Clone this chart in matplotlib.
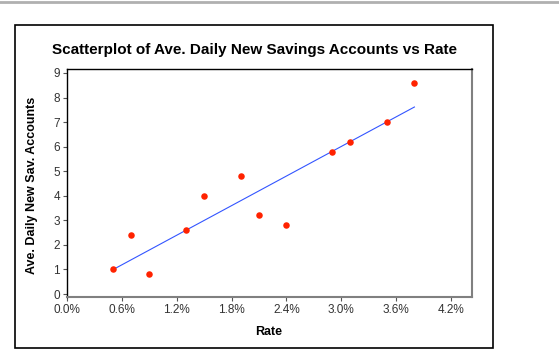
import numpy as np
import matplotlib
matplotlib.use("Agg")
import matplotlib.pyplot as plt
from matplotlib.patches import Rectangle
from matplotlib.lines import Line2D
from matplotlib.ticker import PercentFormatter

# ----
# Data
# ----

rate = [0.005, 0.007, 0.009, 0.013, 0.015, 0.019, 0.021, 0.024, 0.029, 0.031, 0.035, 0.038]
accounts = [1.0, 2.4, 0.8, 2.6, 4.0, 4.8, 3.2, 2.8, 5.8, 6.2, 7.0, 8.6]

x_ticks = [0.0, 0.006, 0.012, 0.018, 0.024, 0.030, 0.036, 0.042]
y_ticks = list(range(0, 10))

title = "Scatterplot of Ave. Daily New Savings Accounts vs Rate"
x_label = "Rate"
y_label = "Ave. Daily New Sav. Accounts"

plt.rcParams["font.family"] = ["Liberation Sans", "DejaVu Sans"]

W, H = 559, 357
fig = plt.figure(figsize=(W / 100, H / 100), dpi=100)

# light grey page edge at the top
fig.add_artist(Line2D([0, 1], [1 - 1.5 / H, 1 - 1.5 / H], color="#b0b0b0", lw=2))

# outer frame
fig.add_artist(Rectangle((15 / W, 1 - 348 / H), (493 - 15) / W, (348 - 25) / H,
                         fill=False, edgecolor="black", lw=1.2))

ax = fig.add_axes([67 / W, 1 - 297 / H, (472 - 67) / W, (297 - 69) / H])

ax.scatter(rate, accounts, s=22, color="#ff2200", zorder=3, linewidths=0)

# least squares fit line
slope, intercept = np.polyfit(rate, accounts, 1)
xs = np.array([min(rate), max(rate)])
ax.plot(xs, slope * xs + intercept, color="#3355ff", lw=0.8, zorder=2)

ax.set_xlim(0, 0.0443)
ax.set_ylim(-0.12, 9.16)
ax.set_xticks(x_ticks)
ax.set_yticks(y_ticks)
ax.xaxis.set_major_formatter(PercentFormatter(xmax=1, decimals=1))
ax.tick_params(direction="out", length=3, width=0.8, labelsize=8.5,
               labelcolor="#333333", color="#555555", pad=2)

for side in ("top", "left"):
    ax.spines[side].set_color("black")
    ax.spines[side].set_linewidth(1.0)
for side in ("right", "bottom"):
    ax.spines[side].set_color("#808080")
    ax.spines[side].set_linewidth(1.5)

fig.text(254 / W, 1 - 50 / H, title, ha="center", va="center",
         fontsize=11, fontweight="bold")
fig.text(269 / W, 1 - 332 / H, x_label, ha="center", va="center",
         fontsize=9, fontweight="bold")
fig.text(32 / W, 1 - 185 / H, y_label, ha="center", va="center", rotation=90,
         fontsize=9, fontweight="bold")

fig.savefig("out.png", dpi=100)
